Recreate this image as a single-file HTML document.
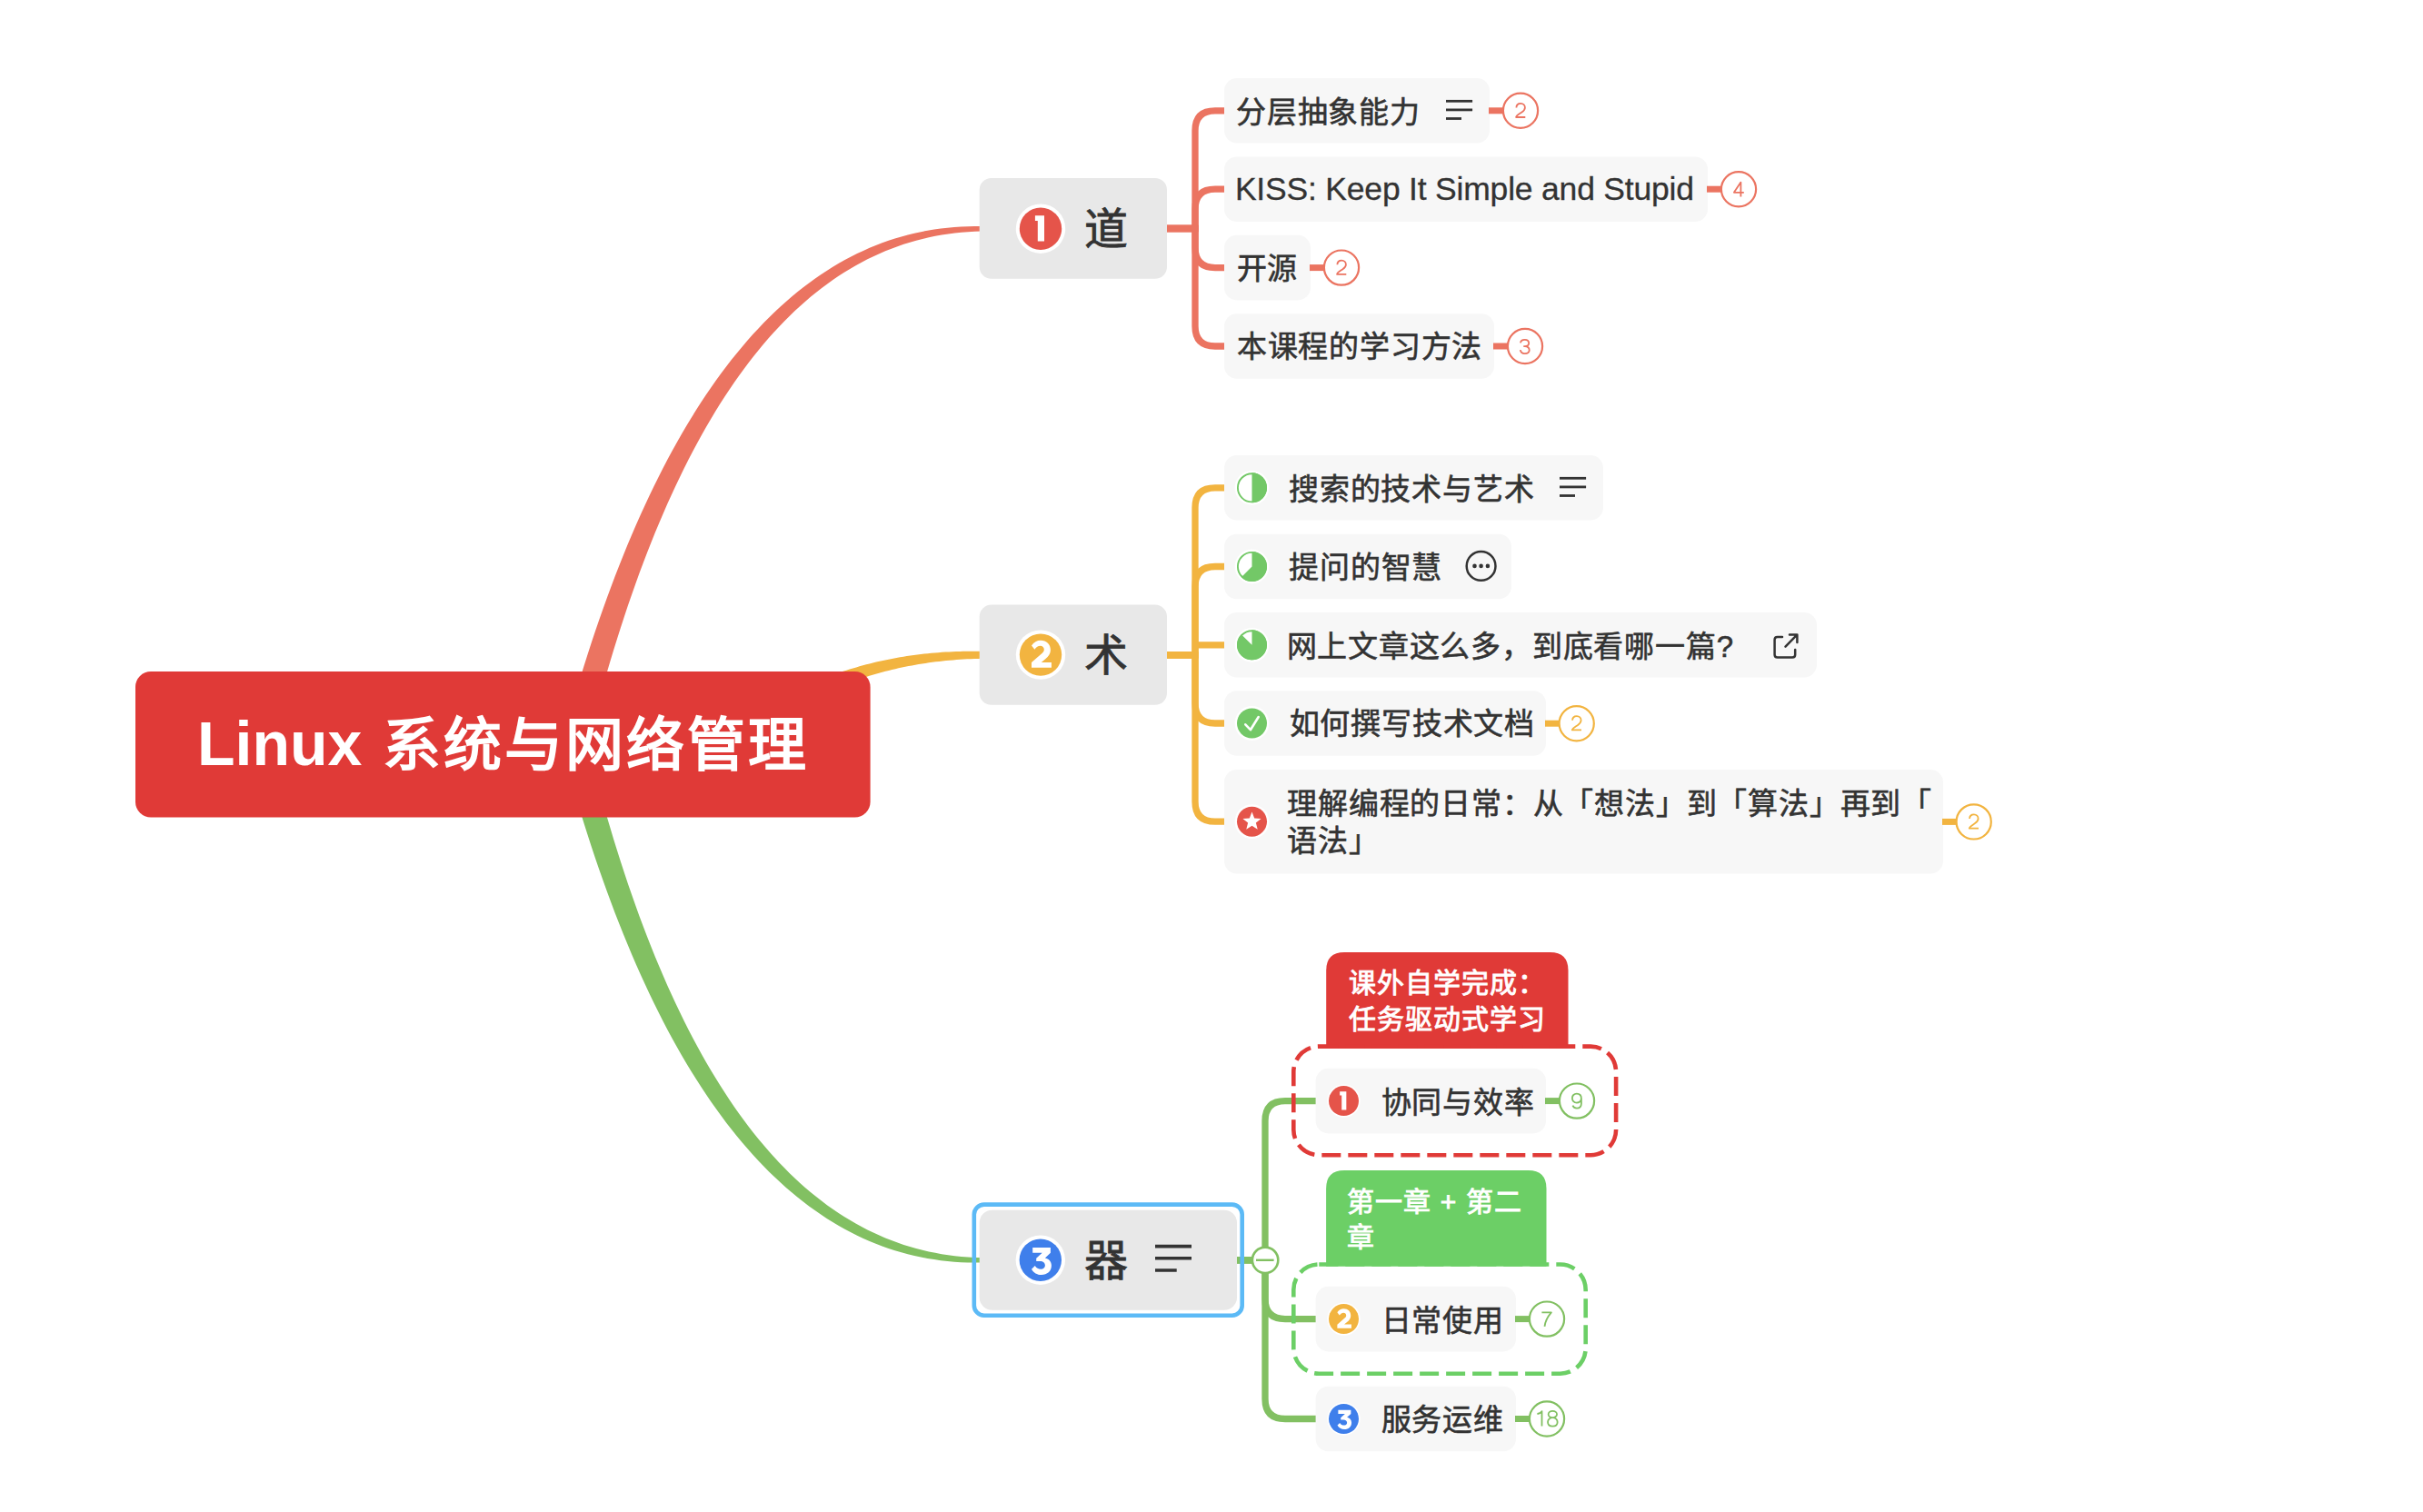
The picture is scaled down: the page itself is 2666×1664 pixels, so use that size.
<!DOCTYPE html>
<html lang="zh-CN"><head><meta charset="utf-8"><title>Linux 系统与网络管理</title>
<style>
html,body{margin:0;padding:0;background:#ffffff;}
body{width:2666px;height:1664px;position:relative;overflow:hidden;font-family:"Liberation Sans",sans-serif;color:#333;}
svg{position:absolute;left:0;top:0;}
.t{position:absolute;white-space:nowrap;line-height:1;}
</style></head><body>
<svg width="2666" height="1664" viewBox="0 0 2666 1664">
<path d="M645.56,823.00 L649.08,808.95 L652.66,795.08 L656.28,781.38 L659.95,767.86 L663.67,754.52 L667.44,741.36 L671.26,728.37 L675.12,715.56 L679.03,702.93 L682.99,690.48 L686.99,678.20 L691.04,666.10 L695.15,654.18 L699.29,642.43 L703.49,630.86 L707.73,619.47 L712.03,608.25 L716.36,597.21 L720.75,586.35 L725.18,575.67 L729.67,565.16 L734.19,554.83 L738.77,544.67 L743.39,534.69 L748.06,524.89 L752.78,515.27 L757.55,505.82 L762.36,496.55 L767.22,487.45 L772.13,478.53 L777.08,469.79 L782.09,461.22 L787.13,452.83 L792.23,444.61 L797.38,436.57 L802.57,428.70 L807.80,421.01 L813.09,413.50 L818.42,406.16 L823.80,399.00 L829.23,392.01 L834.71,385.19 L840.23,378.55 L845.80,372.09 L851.42,365.80 L857.09,359.68 L862.80,353.74 L868.57,347.97 L874.38,342.37 L880.24,336.95 L886.15,331.70 L892.11,326.62 L898.11,321.72 L904.17,316.99 L910.28,312.43 L916.43,308.04 L922.64,303.83 L928.90,299.78 L935.21,295.91 L941.56,292.22 L947.98,288.69 L954.44,285.34 L960.95,282.15 L967.52,279.14 L974.14,276.31 L980.82,273.64 L987.54,271.15 L994.33,268.83 L1001.16,266.68 L1008.05,264.70 L1015.00,262.90 L1022.00,261.27 L1029.05,259.81 L1036.16,258.53 L1043.33,257.42 L1050.55,256.49 L1057.83,255.73 L1065.17,255.14 L1072.56,254.73 L1080.00,254.50 L1080.00,249.10 L1072.42,249.05 L1064.88,249.19 L1057.38,249.50 L1049.92,249.99 L1042.50,250.66 L1035.13,251.51 L1027.80,252.54 L1020.50,253.76 L1013.25,255.15 L1006.04,256.73 L998.87,258.48 L991.75,260.42 L984.67,262.54 L977.63,264.85 L970.63,267.33 L963.68,270.00 L956.77,272.85 L949.91,275.88 L943.09,279.10 L936.31,282.50 L929.58,286.08 L922.90,289.84 L916.26,293.79 L909.67,297.91 L903.12,302.22 L896.62,306.72 L890.17,311.39 L883.77,316.25 L877.41,321.29 L871.10,326.51 L864.84,331.91 L858.63,337.49 L852.47,343.25 L846.35,349.20 L840.29,355.32 L834.27,361.63 L828.30,368.11 L822.38,374.78 L816.52,381.63 L810.70,388.65 L804.92,395.86 L799.20,403.24 L793.53,410.81 L787.91,418.55 L782.34,426.48 L776.81,434.58 L771.34,442.86 L765.91,451.32 L760.54,459.96 L755.22,468.77 L749.94,477.77 L744.71,486.94 L739.54,496.30 L734.41,505.83 L729.33,515.53 L724.31,525.42 L719.33,535.49 L714.40,545.73 L709.52,556.15 L704.69,566.75 L699.91,577.52 L695.18,588.48 L690.50,599.61 L685.87,610.92 L681.28,622.40 L676.75,634.07 L672.27,645.91 L667.83,657.93 L663.44,670.13 L659.11,682.50 L654.82,695.05 L650.58,707.78 L646.39,720.69 L642.25,733.77 L638.16,747.03 L634.12,760.47 L630.13,774.09 L626.18,787.88 L622.29,801.85 L618.44,816.00Z" fill="#EB7461"/>
<path d="M618.44,823.00 L622.29,837.15 L626.18,851.12 L630.13,864.91 L634.12,878.53 L638.16,891.96 L642.25,905.23 L646.39,918.31 L650.58,931.21 L654.82,943.94 L659.11,956.49 L663.44,968.87 L667.83,981.06 L672.27,993.08 L676.75,1004.92 L681.28,1016.58 L685.87,1028.07 L690.50,1039.37 L695.18,1050.50 L699.91,1061.46 L704.69,1072.23 L709.52,1082.82 L714.40,1093.24 L719.33,1103.48 L724.31,1113.54 L729.33,1123.43 L734.41,1133.13 L739.54,1142.66 L744.71,1152.01 L749.94,1161.18 L755.22,1170.17 L760.54,1178.98 L765.92,1187.62 L771.34,1196.08 L776.81,1204.35 L782.34,1212.45 L787.91,1220.37 L793.53,1228.11 L799.20,1235.67 L804.93,1243.05 L810.70,1250.25 L816.52,1257.27 L822.39,1264.11 L828.31,1270.77 L834.27,1277.25 L840.29,1283.55 L846.36,1289.67 L852.47,1295.61 L858.63,1301.37 L864.85,1306.95 L871.11,1312.34 L877.42,1317.55 L883.77,1322.59 L890.18,1327.44 L896.63,1332.10 L903.12,1336.59 L909.67,1340.89 L916.26,1345.01 L922.90,1348.95 L929.58,1352.71 L936.31,1356.28 L943.09,1359.67 L949.91,1362.88 L956.77,1365.90 L963.68,1368.75 L970.64,1371.41 L977.63,1373.88 L984.67,1376.18 L991.75,1378.29 L998.88,1380.22 L1006.05,1381.97 L1013.26,1383.54 L1020.51,1384.92 L1027.80,1386.12 L1035.13,1387.15 L1042.51,1387.99 L1049.93,1388.65 L1057.38,1389.13 L1064.88,1389.43 L1072.42,1389.56 L1080.00,1389.50 L1080.00,1384.10 L1072.55,1383.88 L1065.16,1383.48 L1057.83,1382.90 L1050.55,1382.15 L1043.33,1381.23 L1036.16,1380.13 L1029.05,1378.85 L1021.99,1377.41 L1014.99,1375.78 L1008.05,1373.99 L1001.16,1372.02 L994.32,1369.88 L987.54,1367.57 L980.81,1365.09 L974.14,1362.43 L967.52,1359.60 L960.95,1356.60 L954.43,1353.42 L947.97,1350.07 L941.56,1346.56 L935.20,1342.87 L928.89,1339.00 L922.64,1334.97 L916.43,1330.76 L910.27,1326.38 L904.17,1321.83 L898.11,1317.10 L892.10,1312.21 L886.15,1307.14 L880.24,1301.89 L874.38,1296.48 L868.57,1290.89 L862.80,1285.12 L857.09,1279.19 L851.42,1273.07 L845.80,1266.79 L840.23,1260.33 L834.71,1253.69 L829.23,1246.88 L823.80,1239.90 L818.42,1232.74 L813.09,1225.41 L807.80,1217.90 L802.56,1210.21 L797.37,1202.35 L792.23,1194.32 L787.13,1186.10 L782.08,1177.72 L777.08,1169.15 L772.13,1160.41 L767.22,1151.50 L762.36,1142.40 L757.55,1133.14 L752.78,1123.69 L748.06,1114.07 L743.39,1104.27 L738.77,1094.29 L734.19,1084.14 L729.67,1073.81 L725.18,1063.31 L720.75,1052.63 L716.36,1041.77 L712.03,1030.73 L707.73,1019.52 L703.49,1008.13 L699.29,996.56 L695.15,984.81 L691.04,972.89 L686.99,960.79 L682.99,948.52 L679.03,936.06 L675.12,923.43 L671.26,910.62 L667.44,897.64 L663.67,884.48 L659.95,871.14 L656.28,857.62 L652.66,843.92 L649.08,830.05 L645.56,816.00Z" fill="#82C062"/>
<path d="M806.35,827.22 L809.25,824.76 L812.16,822.34 L815.08,819.94 L818.01,817.57 L820.96,815.23 L823.92,812.92 L826.89,810.64 L829.87,808.39 L832.87,806.17 L835.88,803.98 L838.91,801.82 L841.94,799.69 L844.99,797.58 L848.06,795.51 L851.13,793.47 L854.22,791.46 L857.32,789.47 L860.44,787.52 L863.56,785.60 L866.71,783.71 L869.86,781.84 L873.03,780.01 L876.21,778.20 L879.40,776.43 L882.61,774.68 L885.83,772.97 L889.06,771.28 L892.31,769.63 L895.57,768.00 L898.85,766.40 L902.13,764.84 L905.43,763.30 L908.75,761.79 L912.08,760.32 L915.42,758.87 L918.77,757.45 L922.14,756.06 L925.52,754.70 L928.92,753.38 L932.33,752.08 L935.75,750.81 L939.19,749.57 L942.64,748.36 L946.10,747.18 L949.58,746.03 L953.07,744.91 L956.57,743.82 L960.09,742.76 L963.62,741.73 L967.17,740.74 L970.73,739.77 L974.30,738.83 L977.89,737.92 L981.49,737.04 L985.11,736.19 L988.74,735.37 L992.38,734.58 L996.04,733.82 L999.71,733.09 L1003.39,732.40 L1007.09,731.73 L1010.80,731.09 L1014.53,730.48 L1018.27,729.90 L1022.02,729.36 L1025.79,728.84 L1029.57,728.35 L1033.37,727.90 L1037.18,727.47 L1041.00,727.08 L1044.84,726.71 L1048.69,726.38 L1052.56,726.07 L1056.43,725.80 L1060.33,725.56 L1064.23,725.34 L1068.15,725.16 L1072.09,725.01 L1076.04,724.89 L1080.00,724.80 L1080.00,716.80 L1075.97,716.74 L1071.96,716.71 L1067.96,716.71 L1063.97,716.75 L1059.99,716.81 L1056.02,716.91 L1052.06,717.04 L1048.11,717.20 L1044.17,717.39 L1040.25,717.61 L1036.33,717.86 L1032.43,718.14 L1028.54,718.46 L1024.66,718.80 L1020.79,719.18 L1016.93,719.59 L1013.08,720.03 L1009.25,720.50 L1005.42,721.01 L1001.61,721.54 L997.80,722.11 L994.01,722.71 L990.23,723.33 L986.46,724.00 L982.70,724.69 L978.96,725.41 L975.22,726.17 L971.50,726.95 L967.78,727.77 L964.08,728.62 L960.39,729.51 L956.71,730.42 L953.04,731.37 L949.38,732.34 L945.73,733.35 L942.10,734.39 L938.48,735.46 L934.86,736.57 L931.26,737.71 L927.67,738.87 L924.09,740.07 L920.53,741.30 L916.97,742.57 L913.43,743.86 L909.90,745.19 L906.37,746.55 L902.86,747.94 L899.37,749.36 L895.88,750.82 L892.40,752.31 L888.94,753.82 L885.49,755.38 L882.05,756.96 L878.62,758.57 L875.20,760.22 L871.80,761.90 L868.40,763.61 L865.02,765.35 L861.65,767.13 L858.29,768.93 L854.95,770.77 L851.61,772.64 L848.29,774.54 L844.98,776.48 L841.68,778.44 L838.39,780.44 L835.12,782.47 L831.86,784.54 L828.61,786.63 L825.37,788.76 L822.14,790.92 L818.93,793.11 L815.72,795.33 L812.53,797.58 L809.35,799.87 L806.19,802.19 L803.04,804.54 L799.89,806.92 L796.76,809.33 L793.65,811.78Z" fill="#F2B440"/>
<rect x="149.0" y="739.0" width="808.6" height="160.6" rx="17.0" fill="#E03A37" />
<path d="M1283.0,251.5 H1315.0 V143.8 Q1315.0,121.8 1337.0,121.8 H1349.0" fill="none" stroke="#EB7461" stroke-width="7.3"/>
<path d="M1283.0,251.5 H1315.0 V230.2 Q1315.0,208.2 1337.0,208.2 H1349.0" fill="none" stroke="#EB7461" stroke-width="7.3"/>
<path d="M1283.0,251.5 H1315.0 V272.6 Q1315.0,294.6 1337.0,294.6 H1349.0" fill="none" stroke="#EB7461" stroke-width="7.3"/>
<path d="M1283.0,251.5 H1315.0 V359.0 Q1315.0,381.0 1337.0,381.0 H1349.0" fill="none" stroke="#EB7461" stroke-width="7.3"/>
<rect x="1077.7" y="196.0" width="206.3" height="110.8" rx="13.0" fill="#E8E8E8" />
<circle cx="1145.0" cy="251.7" r="27.2" fill="#fff"/>
<circle cx="1145.0" cy="251.7" r="23.2" fill="#E5544A"/>
<path transform="translate(1145.00,251.70) scale(1.000)" d="M-6.1,-14.5 H4 V13.9 H-3.2 V-8.7 H-6.1 Z" fill="#fff"/>
<rect x="1347.0" y="86.0" width="292.0" height="71.6" rx="14.0" fill="#F7F7F7" />
<path d="M1638.0,121.8 H1655.0" stroke="#EB7461" stroke-width="7"/>
<circle cx="1673.0" cy="121.8" r="19.1" fill="#fff" stroke="#EB7461" stroke-width="2.2"/>
<path transform="translate(1673.00,121.80)" d="M-4.6,-3.4 C-4.6,-6.4 -2.4,-8 0.2,-8 C2.9,-8 4.9,-6.1 4.9,-3.4 C4.9,-1.2 3.6,0.2 1.4,1.7 C-1.6,3.7 -4.6,5.2 -4.9,7.2 H5.3" fill="none" stroke="#EB7461" stroke-width="1.8" stroke-linejoin="round"/>
<rect x="1347.0" y="172.4" width="532.0" height="71.6" rx="14.0" fill="#F7F7F7" />
<path d="M1878.0,208.2 H1895.0" stroke="#EB7461" stroke-width="7"/>
<circle cx="1913.0" cy="208.2" r="19.1" fill="#fff" stroke="#EB7461" stroke-width="2.2"/>
<path transform="translate(1913.00,208.20)" d="M2.4,8.4 V-7.6 L-5.1,3.6 H5.8" fill="none" stroke="#EB7461" stroke-width="1.8" stroke-linejoin="round"/>
<rect x="1347.0" y="258.8" width="95.0" height="71.6" rx="14.0" fill="#F7F7F7" />
<path d="M1441.0,294.6 H1458.0" stroke="#EB7461" stroke-width="7"/>
<circle cx="1476.0" cy="294.6" r="19.1" fill="#fff" stroke="#EB7461" stroke-width="2.2"/>
<path transform="translate(1476.00,294.60)" d="M-4.6,-3.4 C-4.6,-6.4 -2.4,-8 0.2,-8 C2.9,-8 4.9,-6.1 4.9,-3.4 C4.9,-1.2 3.6,0.2 1.4,1.7 C-1.6,3.7 -4.6,5.2 -4.9,7.2 H5.3" fill="none" stroke="#EB7461" stroke-width="1.8" stroke-linejoin="round"/>
<rect x="1347.0" y="345.2" width="297.0" height="71.6" rx="14.0" fill="#F7F7F7" />
<path d="M1643.0,381.0 H1660.0" stroke="#EB7461" stroke-width="7"/>
<circle cx="1678.0" cy="381.0" r="19.1" fill="#fff" stroke="#EB7461" stroke-width="2.2"/>
<path transform="translate(1678.00,381.00)" d="M-5,-3.6 C-4.8,-5.8 -3,-7.1 -0.3,-7.1 C2.4,-7.1 4.2,-5.5 4.2,-3.3 C4.2,-1.1 2.5,0.1 -0.2,0.1 H-1.7 M-0.2,0.1 C2.8,0.1 4.7,1.8 4.7,4.2 C4.7,6.6 2.7,8.1 -0.3,8.1 C-3,8.1 -4.9,6.6 -5.2,4.2" fill="none" stroke="#EB7461" stroke-width="1.8" stroke-linejoin="round"/>
<path d="M1591.0,111.3 H1620.1" stroke="#333" stroke-width="2.8"/>
<path d="M1591.0,120.9 H1620.1" stroke="#333" stroke-width="2.8"/>
<path d="M1591.0,130.5 H1608.0" stroke="#333" stroke-width="2.8"/>
<path d="M1283.0,720.8 H1315.0 V558.8 Q1315.0,536.8 1337.0,536.8 H1349.0" fill="none" stroke="#F2B440" stroke-width="7.3"/>
<path d="M1283.0,720.8 H1315.0 V645.5 Q1315.0,623.5 1337.0,623.5 H1349.0" fill="none" stroke="#F2B440" stroke-width="7.3"/>
<path d="M1283.0,720.8 H1315.0 M1315.0,709.8 H1349.0" fill="none" stroke="#F2B440" stroke-width="7.3"/>
<path d="M1283.0,720.8 H1315.0 V774.0 Q1315.0,796.0 1337.0,796.0 H1349.0" fill="none" stroke="#F2B440" stroke-width="7.3"/>
<path d="M1283.0,720.8 H1315.0 V882.2 Q1315.0,904.2 1337.0,904.2 H1349.0" fill="none" stroke="#F2B440" stroke-width="7.3"/>
<rect x="1077.7" y="665.6" width="206.3" height="110.1" rx="13.0" fill="#E8E8E8" />
<circle cx="1145.0" cy="720.6" r="27.2" fill="#fff"/>
<circle cx="1145.0" cy="720.6" r="23.2" fill="#F2B440"/>
<path transform="translate(1145.00,720.60) scale(1.000)" d="M-10,-10.2 C-7.5,-14 -4,-15.9 0,-15.9 C6.5,-15.9 10.9,-11.5 10.9,-5.2 C10.9,-1.5 8.5,1.8 5.5,4.5 L0.75,8.3 H11.9 V14.2 H-10 V8.5 L1.5,-1.5 C3,-2.8 3.8,-4 3.8,-5.5 C3.8,-8 2,-9.8 -0.3,-9.8 C-2.8,-9.8 -4.8,-8.3 -6.6,-5.8 Z" fill="#fff"/>
<rect x="1347.0" y="501.0" width="417.0" height="71.6" rx="14.0" fill="#F7F7F7" />
<rect x="1347.0" y="587.7" width="316.0" height="71.6" rx="14.0" fill="#F7F7F7" />
<rect x="1347.0" y="674.0" width="652.0" height="71.6" rx="14.0" fill="#F7F7F7" />
<rect x="1347.0" y="760.2" width="354.0" height="71.6" rx="14.0" fill="#F7F7F7" />
<rect x="1347.0" y="846.9" width="791.0" height="114.7" rx="14.0" fill="#F7F7F7" />
<circle cx="1377.5" cy="536.8" r="18.9" fill="#fff"/>
<circle cx="1377.5" cy="536.8" r="15.6" fill="#fff" stroke="#73C867" stroke-width="1.9"/>
<path d="M1377.5,536.8 V520.3 A16.5,16.5 0 0 1 1377.50,553.30 Z" fill="#73C867"/>
<circle cx="1377.5" cy="623.5" r="18.9" fill="#fff"/>
<circle cx="1377.5" cy="623.5" r="15.6" fill="#fff" stroke="#73C867" stroke-width="1.9"/>
<path d="M1377.5,623.5 V607.0 A16.5,16.5 0 1 1 1365.83,635.17 Z" fill="#73C867"/>
<circle cx="1377.5" cy="709.8" r="18.9" fill="#fff"/>
<circle cx="1377.5" cy="709.8" r="15.6" fill="#fff" stroke="#73C867" stroke-width="1.9"/>
<path d="M1377.5,709.8 V693.3 A16.5,16.5 0 1 1 1365.83,698.13 Z" fill="#73C867"/>
<circle cx="1377.5" cy="796.0" r="18.9" fill="#fff"/>
<circle cx="1377.5" cy="796.0" r="16.5" fill="#73C867"/>
<path d="M1370.3,797.3 L1375.9,803.2 L1384.7,789.0" fill="none" stroke="#fff" stroke-width="2.6" stroke-linecap="round" stroke-linejoin="round"/>
<circle cx="1377.5" cy="904.2" r="18.9" fill="#fff"/>
<circle cx="1377.5" cy="904.2" r="16.5" fill="#E5544A"/>
<polygon points="1377.50,893.60 1380.20,900.48 1387.58,900.92 1381.87,905.62 1383.73,912.78 1377.50,908.80 1371.27,912.78 1373.13,905.62 1367.42,900.92 1374.80,900.48" fill="#fff"/>
<path d="M1716.0,526.3 H1745.1" stroke="#333" stroke-width="2.8"/>
<path d="M1716.0,535.9 H1745.1" stroke="#333" stroke-width="2.8"/>
<path d="M1716.0,545.5 H1733.0" stroke="#333" stroke-width="2.8"/>
<circle cx="1629.6" cy="622.9" r="15.9" fill="none" stroke="#333" stroke-width="2.5"/>
<circle cx="1622.5" cy="622.9" r="2.3" fill="#333"/>
<circle cx="1629.6" cy="622.9" r="2.3" fill="#333"/>
<circle cx="1636.9" cy="622.9" r="2.3" fill="#333"/>
<path d="M1961,701 H1955.6 Q1952.6,701 1952.6,704 V720.6 Q1952.6,723.6 1955.6,723.6 H1972.2 Q1975.2,723.6 1975.2,720.6 V715" fill="none" stroke="#333" stroke-width="2.5" stroke-linecap="round"/>
<path d="M1964.5,711.7 L1977.2,698.6 M1969,698.6 H1977.4 V707" fill="none" stroke="#333" stroke-width="2.5" stroke-linecap="round" stroke-linejoin="round"/>
<path d="M1700.0,796.2 H1716.7" stroke="#F2B440" stroke-width="7"/>
<circle cx="1734.7" cy="796.2" r="19.1" fill="#fff" stroke="#F2B440" stroke-width="2.2"/>
<path transform="translate(1734.70,796.20)" d="M-4.6,-3.4 C-4.6,-6.4 -2.4,-8 0.2,-8 C2.9,-8 4.9,-6.1 4.9,-3.4 C4.9,-1.2 3.6,0.2 1.4,1.7 C-1.6,3.7 -4.6,5.2 -4.9,7.2 H5.3" fill="none" stroke="#F2B440" stroke-width="1.8" stroke-linejoin="round"/>
<path d="M2137.0,904.4 H2153.7" stroke="#F2B440" stroke-width="7"/>
<circle cx="2171.7" cy="904.4" r="19.1" fill="#fff" stroke="#F2B440" stroke-width="2.2"/>
<path transform="translate(2171.70,904.40)" d="M-4.6,-3.4 C-4.6,-6.4 -2.4,-8 0.2,-8 C2.9,-8 4.9,-6.1 4.9,-3.4 C4.9,-1.2 3.6,0.2 1.4,1.7 C-1.6,3.7 -4.6,5.2 -4.9,7.2 H5.3" fill="none" stroke="#F2B440" stroke-width="1.8" stroke-linejoin="round"/>
<path d="M1360.0,1386.8 H1392.0 V1233.6 Q1392.0,1211.6 1414.0,1211.6 H1449.0" fill="none" stroke="#82C062" stroke-width="7.3"/>
<path d="M1360.0,1386.8 H1392.0 V1429.6 Q1392.0,1451.6 1414.0,1451.6 H1449.0" fill="none" stroke="#82C062" stroke-width="7.3"/>
<path d="M1360.0,1386.8 H1392.0 V1539.5 Q1392.0,1561.5 1414.0,1561.5 H1449.0" fill="none" stroke="#82C062" stroke-width="7.3"/>
<rect x="1077.7" y="1331.7" width="283.3" height="110.1" rx="14.0" fill="#E8E8E8" />
<rect x="1071.8" y="1325.6" width="294.9" height="122.1" rx="11" fill="none" stroke="#5CBAF6" stroke-width="4.6"/>
<circle cx="1144.8" cy="1386.7" r="27.2" fill="#fff"/>
<circle cx="1144.8" cy="1386.7" r="23.2" fill="#3F7FEB"/>
<path transform="translate(1144.80,1386.70) scale(1.000)" d="M-8.6,-13.8 H11.1 V-7.9 L5.1,-2.3 C9.2,-1.5 12.1,1.8 12.1,6 C12.1,12 7.5,16.3 1,16.3 C-3.8,16.3 -7.5,14 -9.8,10 L-6,6.2 C-4.5,8.7 -2.3,10 0.5,10 C3.2,10 5.1,8.3 5.1,6 C5.1,3.2 3,1.3 -0.5,1.3 H-4.6 V-1.9 L1.9,-7.9 H-8.6 Z" fill="#fff"/>
<path d="M1271,1371.6 H1311 M1271,1384.8 H1311 M1271,1398 H1294.7" stroke="#333" stroke-width="3.6"/>
<circle cx="1392.1" cy="1386.8" r="14.2" fill="#fff" stroke="#82C062" stroke-width="2.6"/>
<path d="M1382,1386.8 H1401.6" stroke="#82C062" stroke-width="2.4"/>
<rect x="1447.6" y="1175.8" width="253.4" height="71.6" rx="14.0" fill="#F7F7F7" />
<circle cx="1478.5" cy="1211.6" r="18.2" fill="#fff"/>
<circle cx="1478.5" cy="1211.6" r="16.5" fill="#E5544A"/>
<path transform="translate(1478.50,1211.60) scale(0.711)" d="M-6.1,-14.5 H4 V13.9 H-3.2 V-8.7 H-6.1 Z" fill="#fff"/>
<path d="M1700.0,1211.6 H1717.0" stroke="#82C062" stroke-width="7"/>
<circle cx="1735.0" cy="1211.6" r="19.1" fill="#fff" stroke="#82C062" stroke-width="2.2"/>
<path transform="translate(1735.00,1211.60)" d="M4.9,-3 C4.9,0 2.6,2 -0.2,2 C-3.1,2 -5.1,-0.2 -5.1,-3.1 C-5.1,-6 -3,-7.9 -0.2,-7.9 C2.8,-7.9 4.9,-5.8 4.9,-2.5 V3 C4.9,6.2 2.9,8.1 -0.1,8.1 C-2.2,8.1 -3.8,7 -4.6,5.1" fill="none" stroke="#82C062" stroke-width="1.8" stroke-linejoin="round"/>
<rect x="1447.6" y="1415.8" width="220.4" height="71.6" rx="14.0" fill="#F7F7F7" />
<circle cx="1478.5" cy="1451.6" r="18.2" fill="#fff"/>
<circle cx="1478.5" cy="1451.6" r="16.5" fill="#F2B440"/>
<path transform="translate(1478.50,1451.60) scale(0.711)" d="M-10,-10.2 C-7.5,-14 -4,-15.9 0,-15.9 C6.5,-15.9 10.9,-11.5 10.9,-5.2 C10.9,-1.5 8.5,1.8 5.5,4.5 L0.75,8.3 H11.9 V14.2 H-10 V8.5 L1.5,-1.5 C3,-2.8 3.8,-4 3.8,-5.5 C3.8,-8 2,-9.8 -0.3,-9.8 C-2.8,-9.8 -4.8,-8.3 -6.6,-5.8 Z" fill="#fff"/>
<path d="M1667.0,1451.6 H1684.0" stroke="#82C062" stroke-width="7"/>
<circle cx="1702.0" cy="1451.6" r="19.1" fill="#fff" stroke="#82C062" stroke-width="2.2"/>
<path transform="translate(1702.00,1451.60)" d="M-5.6,-7.2 H4.9 C1.3,-3 -1.8,2 -2.5,8.3" fill="none" stroke="#82C062" stroke-width="1.8" stroke-linejoin="round"/>
<rect x="1447.6" y="1525.7" width="220.4" height="71.6" rx="14.0" fill="#F7F7F7" />
<circle cx="1478.5" cy="1561.5" r="18.2" fill="#fff"/>
<circle cx="1478.5" cy="1561.5" r="16.5" fill="#3F7FEB"/>
<path transform="translate(1478.50,1561.50) scale(0.711)" d="M-8.6,-13.8 H11.1 V-7.9 L5.1,-2.3 C9.2,-1.5 12.1,1.8 12.1,6 C12.1,12 7.5,16.3 1,16.3 C-3.8,16.3 -7.5,14 -9.8,10 L-6,6.2 C-4.5,8.7 -2.3,10 0.5,10 C3.2,10 5.1,8.3 5.1,6 C5.1,3.2 3,1.3 -0.5,1.3 H-4.6 V-1.9 L1.9,-7.9 H-8.6 Z" fill="#fff"/>
<path d="M1667.0,1561.5 H1684.0" stroke="#82C062" stroke-width="7"/>
<circle cx="1702.0" cy="1561.5" r="19.1" fill="#fff" stroke="#82C062" stroke-width="2.2"/>
<path transform="translate(1702.00,1561.50)" d="M-10.6,-5.5 C-8.3,-5.8 -6.3,-6.8 -5.5,-8.4 V7.9 M6.35,-1.4 C3.6,-1.4 1.65,-3 1.65,-5 C1.65,-7 3.6,-8.6 6.35,-8.6 C9.1,-8.6 11.05,-7 11.05,-5 C11.05,-3 9.1,-1.4 6.35,-1.4 C3.1,-1.4 1.05,0.8 1.05,3.5 C1.05,6.2 3.1,8.2 6.35,8.2 C9.6,8.2 11.65,6.2 11.65,3.5 C11.65,0.8 9.6,-1.4 6.35,-1.4 Z" fill="none" stroke="#82C062" stroke-width="1.8" stroke-linejoin="round"/>
<path d="M1459.2,1153.9 V1067.9 Q1459.2,1047.9 1479.2,1047.9 H1705.5 Q1725.5,1047.9 1725.5,1067.9 V1153.9 Z" fill="#E03A37"/>
<rect x="1423.3" y="1151.6" width="354.8" height="119.6" rx="28" fill="none" stroke="#E03A37" stroke-width="4.6" stroke-dasharray="21 8"/>
<path d="M1459.1,1393.8 V1308.0 Q1459.1,1288.0 1479.1,1288.0 H1681.5 Q1701.5,1288.0 1701.5,1308.0 V1393.8 Z" fill="#6CCF66"/>
<rect x="1423.3" y="1391.5" width="321.4" height="120.2" rx="28" fill="none" stroke="#6CCF66" stroke-width="4.6" stroke-dasharray="21 8"/>
</svg>
<div class="t" style="left:1193.0px;top:228.9px;font-size:48.0px;color:#333333;font-weight:400;-webkit-text-stroke:0.8px #333;">道</div>
<div class="t" style="left:1360.0px;top:106.5px;font-size:33.0px;color:#333333;font-weight:400;letter-spacing:0.8px;-webkit-text-stroke:0.6px #333;">分层抽象能力</div>
<div class="t" style="left:1358.9px;top:191.2px;font-size:35.5px;color:#333333;font-weight:400;letter-spacing:-0.2px;-webkit-text-stroke:0.3px #333;">KISS: Keep It Simple and Stupid</div>
<div class="t" style="left:1360.5px;top:279.3px;font-size:33.0px;color:#333333;font-weight:400;letter-spacing:0.8px;-webkit-text-stroke:0.6px #333;">开源</div>
<div class="t" style="left:1360.8px;top:365.3px;font-size:33.0px;color:#333333;font-weight:400;letter-spacing:0.8px;-webkit-text-stroke:0.6px #333;">本课程的学习方法</div>
<div class="t" style="left:1193.0px;top:698.2px;font-size:48.0px;color:#333333;font-weight:400;-webkit-text-stroke:0.8px #333;">术</div>
<div class="t" style="left:1418.0px;top:521.5px;font-size:33.0px;color:#333333;font-weight:400;letter-spacing:0.8px;-webkit-text-stroke:0.6px #333;">搜索的技术与艺术</div>
<div class="t" style="left:1418.3px;top:608.2px;font-size:33.0px;color:#333333;font-weight:400;letter-spacing:0.8px;-webkit-text-stroke:0.6px #333;">提问的智慧</div>
<div class="t" style="left:1415.5px;top:694.7px;font-size:33.0px;color:#333333;font-weight:400;letter-spacing:0.8px;-webkit-text-stroke:0.6px #333;">网上文章这么多，到底看哪一篇<span style="font-weight:400">?</span></div>
<div class="t" style="left:1418.7px;top:780.1px;font-size:33.0px;color:#333333;font-weight:400;letter-spacing:0.8px;-webkit-text-stroke:0.6px #333;">如何撰写技术文档</div>
<div class="t" style="left:1416.2px;top:864.0px;font-size:33.0px;color:#333333;font-weight:400;letter-spacing:0.8px;-webkit-text-stroke:0.6px #333;line-height:41.4px;">理解编程的日常：从「想法」到「算法」再到「<br>语法」</div>
<div class="t" style="left:1192.6px;top:1364.0px;font-size:48.0px;color:#333333;font-weight:400;-webkit-text-stroke:0.8px #333;">器</div>
<div class="t" style="left:1519.6px;top:1196.7px;font-size:33.0px;color:#333333;font-weight:400;letter-spacing:0.8px;-webkit-text-stroke:0.6px #333;">协同与效率</div>
<div class="t" style="left:1519.5px;top:1436.9px;font-size:33.0px;color:#333333;font-weight:400;letter-spacing:0.8px;-webkit-text-stroke:0.6px #333;">日常使用</div>
<div class="t" style="left:1519.6px;top:1546.0px;font-size:33.0px;color:#333333;font-weight:400;letter-spacing:0.8px;-webkit-text-stroke:0.6px #333;">服务运维</div>
<div class="t" style="left:1484.0px;top:1062.0px;font-size:30.0px;color:#fff;font-weight:400;line-height:39.5px;letter-spacing:1.05px;-webkit-text-stroke:0.9px #fff;">课外自学完成：<br>任务驱动式学习</div>
<div class="t" style="left:1482.3px;top:1302.6px;font-size:30.0px;color:#fff;font-weight:400;line-height:39.5px;letter-spacing:1.05px;-webkit-text-stroke:0.9px #fff;">第一章 + 第二<br>章</div>
<div class="t" style="left:217.0px;top:784.0px;font-size:68.0px;color:#fff;font-weight:700;">Linux</div>
<div class="t" style="left:421.0px;top:788.0px;font-size:64.0px;color:#fff;font-weight:700;letter-spacing:3px;">系统与网络管理</div>
</body></html>
